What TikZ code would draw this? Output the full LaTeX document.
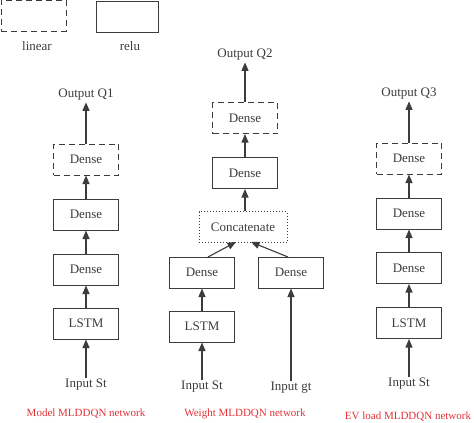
\documentclass[tikz,border=0pt]{standalone}
\usepackage{fontspec}
\setmainfont{Liberation Serif}
\usetikzlibrary{arrows.meta}
\definecolor{ln}{RGB}{60,60,60}
\definecolor{redt}{RGB}{225,50,55}
\begin{document}
\begin{tikzpicture}[x=1pt,y=-1pt,
  font=\fontsize{13}{15}\selectfont,
  every node/.style={text=ln},
  layer/.style={draw=ln,line width=1pt,minimum width=65pt,minimum height=31pt,inner sep=0pt},
  lin/.style={layer,dash pattern=on 6pt off 4pt},
  cat/.style={layer,dotted,minimum width=88pt,line width=0.9pt},
  txt/.style={inner sep=1.5pt},
  netcaption/.style={text=redt,font=\fontsize{11}{13}\selectfont},
  arr/.style={draw=ln,line width=1.1pt,-{Triangle[length=8.5pt,width=7pt]}}
]
\useasboundingbox (0,0) rectangle (474,423);
% legend
\node[lin,minimum width=65pt] (lgl) at (33.5,15.5) {};
\node[layer,minimum width=62pt] (lgr) at (127,16.5) {};
\node[txt] (lgltxt) at (37,46) {linear};
\node[txt] (lgrtxt) at (130,46) {relu};
% left column
\node[txt] (q1) at (86,95) {Output Q1};
\node[lin] (a1) at (86,159.5) {Dense};
\node[layer] (a2) at (86,214.5) {Dense};
\node[layer] (a3) at (86,269.5) {Dense};
\node[layer] (a4) at (86,323.5) {LSTM};
\node[txt] (ai) at (86,385) {Input St};
\node[netcaption] (ac) at (86,414) {Model MLDDQN network};
\draw[arr] (ai) -- (a4);
\draw[arr] (a4) -- (a3);
\draw[arr] (a3) -- (a2);
\draw[arr] (a2) -- (a1);
\draw[arr] (a1) -- (q1);
% middle column
\node[txt] (q2) at (245,55) {Output Q2};
\node[lin] (b1) at (245,118) {Dense};
\node[layer] (b2) at (245,173) {Dense};
\node[cat] (bc) at (243,227) {Concatenate};
\node[layer] (bl) at (202,272.5) {Dense};
\node[layer] (br) at (291,272.5) {Dense};
\node[layer] (bm) at (202,326.5) {LSTM};
\node[txt] (bis) at (202,387) {Input St};
\node[txt] (big) at (291,388) {Input gt};
\node[netcaption] (bcap) at (245,414) {Weight MLDDQN network};
\coordinate (cl) at (236,242);
\coordinate (cr) at (251,242);
\coordinate (blt) at (208,257);
\coordinate (brt) at (288,257);
\draw[arr] (bis) -- (bm);
\draw[arr] (bm) -- (bl);
\draw[arr] (big) -- (br);
\draw[arr] (blt) -- (cl);
\draw[arr] (brt) -- (cr);
\draw[arr] (bc.north -| b2) -- (b2);
\draw[arr] (b2) -- (b1);
\draw[arr] (b1) -- (q2);
% right column
\node[txt] (q3) at (409,94) {Output Q3};
\node[lin] (c1) at (409,158.5) {Dense};
\node[layer] (c2) at (409,213.5) {Dense};
\node[layer] (c3) at (409,268) {Dense};
\node[layer] (c4) at (409,323) {LSTM};
\node[txt] (ci) at (409,384) {Input St};
\node[netcaption] (ccap) at (408,417) {EV load MLDDQN network};
\draw[arr] (ci) -- (c4);
\draw[arr] (c4) -- (c3);
\draw[arr] (c3) -- (c2);
\draw[arr] (c2) -- (c1);
\draw[arr] (c1) -- (q3);
\end{tikzpicture}
\end{document}
